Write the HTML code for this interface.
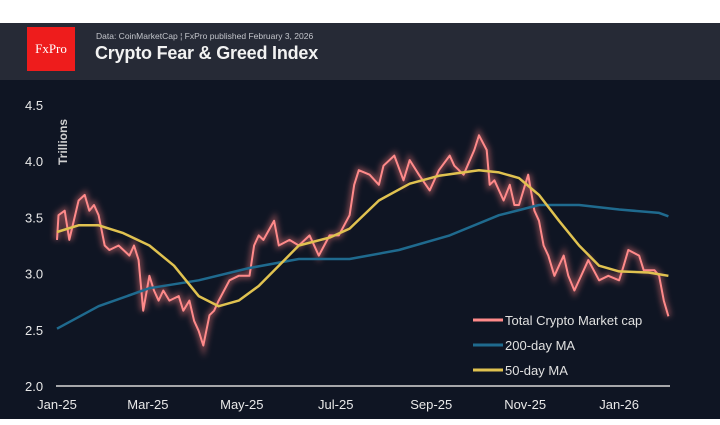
<!DOCTYPE html>
<html><head><meta charset="utf-8"><style>
body{margin:0;width:720px;height:425px;background:#fff;overflow:hidden;font-family:"Liberation Sans",sans-serif}
#hdr{position:absolute;left:0;top:23px;width:720px;height:57px;background:#262a36}
#logo{position:absolute;left:27px;top:4px;width:48px;height:44px;background:#ee1c1c;color:#fff;font-family:"Liberation Serif",serif;font-size:13px;line-height:44px;text-align:center}
#sub{position:absolute;left:96px;top:8px;font-size:8.5px;color:#c4c6cc}
#ttl{position:absolute;left:95px;top:20px;font-size:18px;color:#f2f2f2;font-weight:bold;letter-spacing:-0.2px}
svg{position:absolute;left:0;top:80px}
</style></head><body>
<div id="hdr">
<div id="logo">FxPro</div>
<div id="sub">Data: CoinMarketCap ¦ FxPro published February 3, 2026</div>
<div id="ttl">Crypto Fear &amp; Greed Index</div>
</div>
<svg id="c" width="720" height="339"></svg>
<script>
const capDays=[0,1,5,8,14,18,21,24,27,31,34,40,47,50,53,56,60,63,66,69,73,79,82,86,89,92,95,99,102,105,112,118,125,128,131,134,141,144,151,157,164,170,177,183,190,193,196,203,209,212,219,225,229,235,242,248,255,258,264,271,274,279,281,284,290,294,297,300,306,310,313,316,319,323,326,329,332,336,342,345,352,358,365,368,371,378,381,388,391,394,397];
const capVals=[3.30,3.52,3.56,3.30,3.65,3.70,3.56,3.61,3.52,3.25,3.21,3.25,3.16,3.25,3.12,2.67,2.98,2.85,2.76,2.85,2.76,2.80,2.67,2.76,2.58,2.49,2.36,2.63,2.67,2.76,2.94,2.98,2.98,3.25,3.34,3.30,3.47,3.25,3.30,3.25,3.34,3.16,3.34,3.34,3.52,3.79,3.92,3.88,3.79,3.96,4.05,3.83,4.01,3.88,3.74,3.92,4.05,3.96,3.88,4.10,4.23,4.10,3.79,3.83,3.65,3.79,3.61,3.61,3.88,3.56,3.47,3.25,3.16,2.98,3.07,3.16,2.98,2.85,3.03,3.12,2.94,2.98,2.94,3.07,3.21,3.16,3.03,3.03,2.98,2.76,2.62];
const ma200Days=[0,27,60,92,125,157,190,222,255,287,313,339,365,391,397];
const ma200Vals=[2.51,2.71,2.87,2.94,3.05,3.13,3.13,3.21,3.34,3.52,3.61,3.61,3.57,3.54,3.51];
const ma50Days=[0,14,27,43,60,76,92,105,118,131,144,157,177,190,209,229,248,274,287,300,313,326,339,352,365,384,397];
const ma50Vals=[3.37,3.43,3.43,3.36,3.25,3.07,2.80,2.71,2.76,2.89,3.07,3.25,3.32,3.40,3.65,3.80,3.87,3.92,3.90,3.85,3.70,3.47,3.25,3.07,3.02,3.01,2.98];
const yTicks=[2.0,2.5,3.0,3.5,4.0,4.5];
const xTickLabels=["Jan-25","Mar-25","May-25","Jul-25","Sep-25","Nov-25","Jan-26"];
const xTickDays=[0,59,120,181,243,304,365];
const svg=document.getElementById('c');const NS='http://www.w3.org/2000/svg';
const X=d=>57+d*1.54;const Y=v=>25+(4.5-v)*112.4;
svg.innerHTML='<defs><filter id="g" x="-10%" y="-10%" width="120%" height="120%"><feGaussianBlur stdDeviation="3"/></filter></defs><rect width="720" height="339" fill="#0f1523"/>';
function mk(t,a){const e=document.createElementNS(NS,t);for(const k in a)e.setAttribute(k,a[k]);svg.appendChild(e);return e;}
yTicks.forEach(v=>{const t=mk('text',{x:25,y:Y(v)+5,fill:'#e8e8e8','font-size':13});t.textContent=v.toFixed(1);

});
const yt=mk('text',{x:0,y:0,fill:'#d0d0d0','font-size':12,'font-weight':'bold',transform:'translate(67,62) rotate(-90)','text-anchor':'middle'});yt.textContent='Trillions';


xTickLabels.forEach((s,i)=>{const t=mk('text',{x:X(xTickDays[i]),y:329,fill:'#e8e8e8','font-size':13,'text-anchor':'middle'});t.textContent=s;

});
const ax=mk('line',{x1:56,x2:670,y1:Y(2.0),y2:Y(2.0),stroke:'#d8d8d8','stroke-width':1.5});


function pts(d,v){return d.map((x,i)=>X(x).toFixed(1)+','+Y(v[i]).toFixed(1)).join(' ');}
const gl=mk('polyline',{points:pts(capDays,capVals),fill:'none',stroke:'#ff7f7f','stroke-width':6,'stroke-opacity':0.45,filter:'url(#g)'});


const cap=mk('polyline',{points:pts(capDays,capVals),fill:'none',stroke:'#ff8a8a','stroke-width':2,'stroke-linejoin':'round'});


const m200=mk('polyline',{points:pts(ma200Days,ma200Vals),fill:'none',stroke:'#1f6a8e','stroke-width':2.5,'stroke-linejoin':'round'});


const m50=mk('polyline',{points:pts(ma50Days,ma50Vals),fill:'none',stroke:'#e0c250','stroke-width':2.5,'stroke-linejoin':'round'});


[['Total Crypto Market cap','#ff8a8a'],['200-day MA','#1f6a8e'],['50-day MA','#e0c250']].forEach((l,i)=>{const y=240+i*25;
const ln=mk('line',{x1:473,x2:503,y1:y,y2:y,stroke:l[1],'stroke-width':3});


const t=mk('text',{x:505,y:y+5,fill:'#e0e0e0','font-size':13});t.textContent=l[0];

});
</script>
</body></html>
